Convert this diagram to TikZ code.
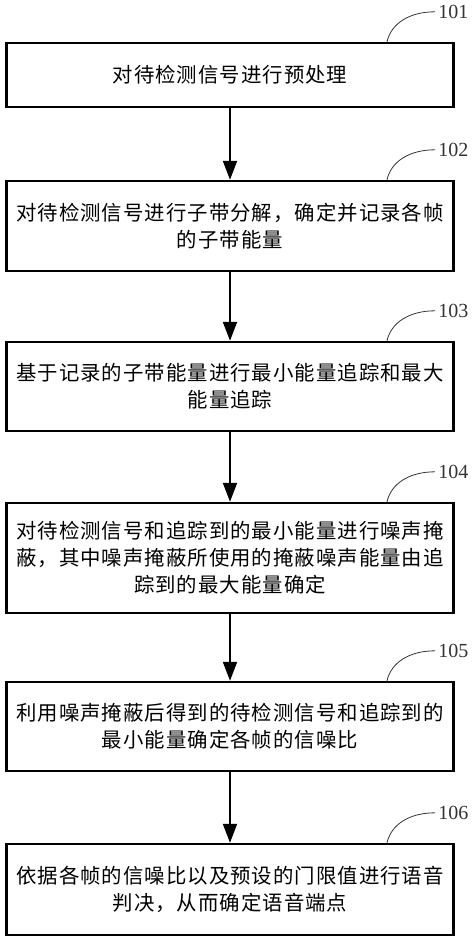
\documentclass[tikz,border=0pt]{standalone}
\usepackage{fontspec}
\setmainfont{Liberation Serif}
\newfontfamily\cjk[LetterSpace=5]{Noto Sans CJK SC}
\usetikzlibrary{arrows.meta}

\begin{document}
\begin{tikzpicture}[x=1pt,y=-1pt,
    stepbox/.style={draw, line width=2.4pt, minimum width=447pt, inner sep=0pt, align=center, font=\cjk\fontsize{20.4}{27}\selectfont},
    flow/.style={-{Triangle[length=19pt,width=14pt]}, line width=2pt},
    leader/.style={line width=0.8pt, black!80},
    tag/.style={anchor=west, inner sep=0pt, xshift=3pt, font=\fontsize{20}{22}\selectfont}]
    \useasboundingbox (0,0) rectangle (474,941);

    % Steps
    \node[stepbox, minimum height=64pt] (s1) at (230,75) {对待检测信号进行预处理};
    \node[stepbox, minimum height=90pt] (s2) at (230,226) {对待检测信号进行子带分解，确定并记录各帧\\的子带能量};
    \node[stepbox, minimum height=89pt] (s3) at (230,386.5) {基于记录的子带能量进行最小能量追踪和最大\\能量追踪};
    \node[stepbox, minimum height=110pt] (s4) at (230,558) {对待检测信号和追踪到的最小能量进行噪声掩\\蔽，其中噪声掩蔽所使用的掩蔽噪声能量由追\\踪到的最大能量确定};
    \node[stepbox, minimum height=89pt] (s5) at (230,726.5) {利用噪声掩蔽后得到的待检测信号和追踪到的\\最小能量确定各帧的信噪比};
    \node[stepbox, minimum height=91pt] (s6) at (230,889.5) {依据各帧的信噪比以及预设的门限值进行语音\\判决，从而确定语音端点};

    % Arrows
    \draw[flow] (s1) -- (s2);
    \draw[flow] (s2) -- (s3);
    \draw[flow] (s3) -- (s4);
    \draw[flow] (s4) -- (s5);
    \draw[flow] (s5) -- (s6);

    % Reference numbers
    \foreach \n in {1,...,6}
        \draw[leader] (s\n.north -| 387,0) .. controls +(4,-18) and +(-26,0) .. +(48,-30) node[tag] {10\n};
\end{tikzpicture}
\end{document}
